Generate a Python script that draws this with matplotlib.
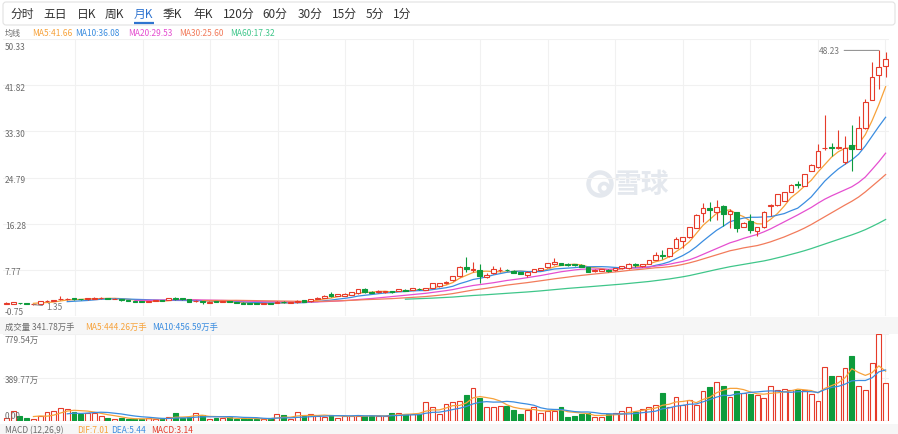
import numpy as np
import pandas as pd
import matplotlib
matplotlib.use('Agg')
import matplotlib.pyplot as plt
import matplotlib.transforms as mtrans
from matplotlib.patches import Rectangle, FancyBboxPatch, Circle

plt.rcParams['font.family'] = ['Noto Sans CJK SC', 'DejaVu Sans']

# ---------------- data (monthly K, forward adjusted) ----------------
opens = [1.55, 1.42, 1.66, 1.52, 1.42, 1.45, 1.95, 2.05, 2.33, 2.35,
         2.57, 2.40, 2.30, 2.45, 2.50, 2.60, 2.35, 2.32, 2.20, 2.05,
         2.00, 1.88, 2.00, 2.10, 2.20, 2.60, 2.50, 2.30, 1.95, 2.02,
         1.65, 1.90, 1.85, 1.95, 1.80, 1.70, 1.60, 1.65, 1.50, 1.70,
         1.60, 1.90, 1.72, 1.75, 2.20, 1.95, 2.38, 2.57, 3.25, 2.90,
         2.90, 3.10, 3.40, 4.20, 3.74, 3.60, 3.60, 3.90, 3.86, 4.10,
         4.10, 4.30, 4.05, 4.40, 4.70, 5.30, 5.80, 6.56, 8.30, 7.70,
         7.80, 6.40, 7.10, 7.70, 7.80, 7.60, 7.30, 6.80, 7.40, 7.80,
         8.20, 8.80, 9.00, 8.90, 8.80, 8.65, 8.22, 7.48, 7.61, 7.80,
         7.67, 8.04, 8.04, 8.80, 8.40, 8.84, 9.63, 10.50, 10.25, 11.85,
         13.10, 13.75, 15.50, 18.20, 19.10, 18.40, 19.60, 18.05, 18.40, 15.70,
         16.80, 15.00, 15.60, 19.50, 19.70, 20.50, 22.20, 23.60, 23.30, 26.00,
         26.70, 30.20, 30.40, 30.20, 27.70, 30.80, 30.10, 33.90, 39.10, 43.75,
         45.40]
closes = [1.62, 1.77, 1.58, 1.46, 1.50, 2.08, 2.02, 2.12, 2.40, 2.42,
          2.33, 2.30, 2.50, 2.62, 2.60, 2.42, 2.45, 2.15, 2.02, 1.90,
          1.85, 2.00, 2.06, 2.00, 2.50, 2.30, 2.30, 1.92, 2.05, 1.80,
          1.90, 1.85, 1.90, 1.80, 1.62, 1.50, 1.55, 1.45, 1.60, 1.55,
          1.90, 1.75, 1.80, 2.10, 1.88, 2.38, 2.63, 3.00, 2.88, 3.25,
          3.30, 3.60, 4.23, 3.60, 3.50, 3.90, 3.80, 3.60, 4.23, 3.90,
          4.35, 4.20, 4.35, 5.27, 5.30, 5.60, 6.56, 8.30, 7.90, 8.00,
          6.57, 6.80, 7.90, 7.80, 7.70, 7.20, 7.05, 7.40, 7.90, 8.05,
          9.00, 9.15, 8.70, 8.60, 8.60, 8.30, 7.42, 7.79, 7.91, 7.55,
          8.04, 8.40, 8.84, 8.60, 8.80, 9.57, 10.50, 10.35, 11.70, 13.40,
          13.75, 15.60, 17.90, 19.20, 18.80, 19.30, 18.10, 18.67, 15.40, 16.40,
          15.20, 15.60, 18.50, 19.70, 21.70, 22.05, 23.40, 23.40, 25.40, 27.10,
          29.70, 30.30, 30.20, 30.40, 30.30, 30.10, 33.90, 38.80, 43.30, 45.10,
          46.60]
highs = [1.85, 1.80, 1.70, 1.55, 1.55, 2.10, 2.25, 2.20, 3.00, 2.55,
         2.62, 2.45, 2.55, 2.68, 2.75, 2.65, 2.52, 2.36, 2.24, 2.08,
         2.03, 2.05, 2.12, 2.14, 2.55, 2.75, 2.55, 2.35, 2.12, 2.05,
         1.95, 1.95, 1.96, 1.98, 1.84, 1.74, 1.65, 1.68, 1.66, 1.72,
         1.95, 1.94, 1.85, 2.15, 2.25, 2.45, 2.70, 3.05, 3.60, 3.30,
         3.40, 3.75, 4.30, 4.35, 3.80, 4.00, 3.90, 3.95, 4.30, 4.15,
         4.45, 4.40, 4.45, 5.35, 5.40, 5.75, 6.65, 8.40, 10.07, 9.15,
         8.84, 7.10, 8.50, 8.20, 7.95, 7.75, 7.40, 7.50, 8.00, 8.15,
         9.10, 9.90, 9.10, 8.95, 8.90, 8.75, 8.30, 7.90, 8.00, 7.90,
         8.10, 8.50, 8.95, 9.10, 8.90, 9.65, 11.10, 11.50, 11.80, 13.90,
         13.85, 15.70, 18.00, 20.10, 20.20, 20.70, 19.80, 19.00, 18.50, 16.50,
         18.10, 15.70, 18.60, 19.90, 21.80, 22.20, 23.50, 24.20, 25.50, 27.30,
         31.00, 36.30, 31.20, 33.60, 32.40, 34.50, 36.20, 39.20, 46.10, 48.23,
         48.00]
lows = [1.45, 1.40, 1.55, 1.42, 1.35, 1.42, 1.85, 2.00, 2.25, 2.25,
        2.28, 2.25, 2.28, 2.40, 2.45, 2.38, 2.30, 2.10, 1.98, 1.86,
        1.82, 1.85, 1.95, 1.96, 2.15, 2.25, 2.25, 1.88, 1.90, 1.50,
        1.60, 1.80, 1.82, 1.76, 1.58, 1.46, 1.50, 1.40, 1.46, 1.50,
        1.56, 1.70, 1.68, 1.72, 1.80, 1.90, 2.32, 2.50, 2.80, 2.85,
        2.85, 3.05, 3.35, 3.55, 3.40, 3.55, 3.50, 3.55, 3.80, 3.85,
        4.05, 4.10, 4.00, 4.35, 4.60, 5.20, 5.75, 6.50, 7.30, 7.30,
        5.33, 6.30, 7.00, 7.30, 7.55, 7.10, 6.95, 6.50, 7.30, 7.75,
        8.10, 8.70, 8.60, 8.50, 8.50, 8.20, 7.30, 7.40, 7.50, 7.45,
        7.60, 7.95, 8.00, 8.20, 8.30, 8.75, 9.55, 9.76, 10.15, 11.75,
        11.80, 13.60, 15.40, 16.60, 16.80, 17.00, 15.90, 15.40, 14.80, 15.60,
        14.55, 14.06, 15.50, 17.60, 19.60, 20.40, 22.10, 22.80, 23.20, 25.90,
        26.60, 29.80, 28.80, 30.00, 27.30, 25.90, 30.00, 33.80, 39.00, 41.10,
        43.30]
# volume in 万手
volumes = [23, 92, 44, 23, 18, 47, 83, 92, 118, 104,
           83, 65, 74, 74, 47, 23, 20, 23, 18, 18,
           18, 23, 18, 23, 38, 68, 29, 35, 74, 50,
           18, 23, 23, 35, 18, 23, 18, 18, 20, 23,
           59, 50, 18, 77, 41, 65, 47, 35, 56, 29,
           47, 47, 47, 47, 47, 47, 41, 70, 73, 65,
           65, 67, 171, 127, 67, 151, 171, 180, 237, 298,
           210, 124, 127, 136, 130, 98, 65, 95, 127, 73,
           92, 92, 121, 38, 44, 59, 70, 38, 38, 62,
           70, 92, 124, 77, 110, 124, 145, 248, 124, 213,
           145, 192, 145, 272, 307, 348, 316, 219, 272, 251,
           245, 231, 203, 310, 275, 284, 278, 281, 278, 243,
           177, 481, 405, 402, 472, 582, 310, 278, 520, 779.54,
           341.78]

price_ticks = [-0.75, 7.77, 16.28, 24.79, 33.30, 41.82, 50.33]
price_labels = ['-0.75', '7.77', '16.28', '24.79', '33.30', '41.82', '50.33']
vol_ticks = [0.0, 389.77, 779.54]
vol_labels = ['0.00', '389.77万', '779.54万']
tabs = ['分时', '五日', '日K', '周K', '月K', '季K', '年K', '120分', '60分', '30分', '15分', '5分', '1分']
ma_periods = [5, 10, 20, 30, 60]
ma_labels = ['MA5:41.66', 'MA10:36.08', 'MA20:29.53', 'MA30:25.60', 'MA60:17.32']

# ---------------- style ----------------
RED = '#e63b2a'
GREEN = '#0d9b3c'
MA_COLORS = ['#f7a23a', '#3b8de0', '#e54fd0', '#f27b5b', '#3fc68a']
GRID = '#f1f1f1'
TXT = '#6b6b6b'
WM = '#e4e8ee'
W, H = 898, 435
tab_x = [10, 43, 77, 105, 134, 163, 193, 223, 262, 298, 332, 366, 393]
ma_x = [32, 75, 128, 179, 230]

fig = plt.figure(figsize=(W / 100, H / 100), dpi=100)
fig.patch.set_facecolor('white')

bg = fig.add_axes([0, 0, 1, 1], zorder=0)
bg.set_xlim(0, W)
bg.set_ylim(H, 0)
bg.axis('off')

# tab bar
bg.add_patch(FancyBboxPatch((3, 3), 892, 23, boxstyle='round,pad=0,rounding_size=3',
                            fc='white', ec='#e2e2e2', lw=0.8))
for t, xx in zip(tabs, tab_x):
    col = '#2f74d0' if t == '月K' else '#333333'
    bg.text(xx, 14.5, t, fontsize=8.5, color=col, ha='left', va='center')
bg.plot([134, 154], [23.5, 23.5], color='#2f74d0', lw=1.6, solid_capstyle='butt')

# MA legend
bg.text(5, 33, '均线', fontsize=5.8, color=TXT, ha='left', va='center')
for lab, xx, c_ in zip(ma_labels, ma_x, MA_COLORS):
    bg.text(xx, 33, lab, fontsize=6, color=c_, ha='left', va='center')

# gray header bands
bg.add_patch(Rectangle((0, 318), W, 17, color='#f6f6f6', lw=0))
bg.add_patch(Rectangle((0, 425), W, 10, color='#f6f6f6', lw=0))
bg.text(5, 327, '成交量 341.78万手', fontsize=6, color=TXT, ha='left', va='center')
bg.text(85, 327, 'MA5:444.26万手', fontsize=6, color=MA_COLORS[0], ha='left', va='center')
bg.text(152, 327, 'MA10:456.59万手', fontsize=6, color=MA_COLORS[1], ha='left', va='center')
bg.text(5, 431, 'MACD (12,26,9)', fontsize=6, color=TXT, ha='left', va='center')
bg.text(77, 431, 'DIF:7.01', fontsize=6, color=MA_COLORS[0], ha='left', va='center')
bg.text(111, 431, 'DEA:5.44', fontsize=6, color=MA_COLORS[1], ha='left', va='center')
bg.text(151, 431, 'MACD:3.14', fontsize=6, color=RED, ha='left', va='center')

# watermark
bg.add_patch(Circle((600, 185), 11.5, fill=False, ec=WM, lw=3.2))
bg.add_patch(Circle((604, 189), 4.5, fill=False, ec=WM, lw=2.6))
bg.text(641, 185, '雪球', fontsize=20, color=WM, ha='center', va='center', fontweight='bold')

n = len(closes)
x = np.arange(n)
o = np.array(opens); c = np.array(closes); h = np.array(highs); l = np.array(lows)
v = np.array(volumes)
up = c >= o
cols = np.where(up, RED, GREEN)

# ---------------- main price axes ----------------
ax_left, ax_w = 3 / W, 886 / W
ax = fig.add_axes([ax_left, 1 - 317 / H, ax_w, 277 / H], zorder=1)
ax.set_facecolor('none')
ax.set_xlim(-0.5, n - 0.5)
ax.set_ylim(price_ticks[0], price_ticks[-1])
for s in ax.spines.values():
    s.set_visible(False)
ax.set_xticks([]); ax.set_yticks([])

bar_px = 886 / n
vgrid = [(8 + 67.46 * k - 3) / bar_px - 0.5 for k in range(1, 14)]
for yv in price_ticks:
    ax.axhline(yv, color=GRID, lw=0.8, zorder=0)
for xv in vgrid:
    ax.axvline(xv, color=GRID, lw=0.8, zorder=0)

blend = mtrans.blended_transform_factory(ax.transAxes, ax.transData)
for i, (yv, lab) in enumerate(zip(price_ticks, price_labels)):
    if i == len(price_ticks) - 1:
        va, dy = 'top', -2
    elif i == 0:
        va, dy = 'bottom', 0
    else:
        va, dy = 'center', -1.5
    ax.annotate(lab, xy=(0.002, yv), xycoords=blend, xytext=(0, dy), textcoords='offset points',
                fontsize=6, color=TXT, ha='left', va=va, zorder=6)

# moving averages
cs = pd.Series(c)
for p, col in zip(ma_periods, MA_COLORS):
    ax.plot(x, cs.rolling(p).mean(), color=col, lw=0.9, zorder=2)

# candles
ax.vlines(x, l, h, colors=cols, lw=0.8, zorder=3)
body_h = np.maximum(np.abs(c - o), 0.12)
body_b = np.minimum(o, c)
ax.bar(x, body_h, bottom=body_b, width=0.7, color=np.where(up, 'white', GREEN),
       edgecolor=cols, linewidth=0.8, zorder=4)

# extreme annotations
imax = int(np.argmax(h)); imin = int(np.argmin(l))
ax.annotate(f'{h[imax]:.2f}', xy=(imax, h[imax]), xytext=(-28, 0), textcoords='offset points',
            fontsize=6, color='#777777', ha='right', va='center', zorder=6,
            arrowprops=dict(arrowstyle='-', color='#888888', lw=0.7, shrinkA=1, shrinkB=0))
ax.annotate(f'{l[imin]:.2f}', xy=(imin, l[imin]), xytext=(9.5, -1.5), textcoords='offset points',
            fontsize=6, color='#777777', ha='left', va='center', zorder=6,
            arrowprops=dict(arrowstyle='-', color='#888888', lw=0.7, shrinkA=1, shrinkB=0))

# ---------------- volume axes ----------------
vax = fig.add_axes([ax_left, 1 - 422 / H, ax_w, 87 / H], zorder=1)
vax.set_facecolor('none')
vax.set_xlim(-0.5, n - 0.5)
vax.set_ylim(vol_ticks[0], vol_ticks[-1])
for s in vax.spines.values():
    s.set_visible(False)
vax.set_xticks([]); vax.set_yticks([])
for yv in vol_ticks[1:]:
    vax.axhline(yv, color=GRID, lw=0.8, zorder=0)
for xv in vgrid:
    vax.axvline(xv, color=GRID, lw=0.8, zorder=0)

vax.bar(x, v, width=0.72, color=np.where(up, 'white', GREEN), edgecolor=cols,
        linewidth=0.8, zorder=3)
vs = pd.Series(v)
vax.plot(x, vs.rolling(5).mean(), color=MA_COLORS[0], lw=0.9, zorder=4)
vax.plot(x, vs.rolling(10).mean(), color=MA_COLORS[1], lw=0.9, zorder=4)

vblend = mtrans.blended_transform_factory(vax.transAxes, vax.transData)
for i, (yv, lab) in enumerate(zip(vol_ticks, vol_labels)):
    if i == len(vol_ticks) - 1:
        va, dy = 'top', -1
    elif i == 0:
        va, dy = 'bottom', 1
    else:
        va, dy = 'center', -1.5
    vax.annotate(lab, xy=(0.002, yv), xycoords=vblend, xytext=(0, dy), textcoords='offset points',
                 fontsize=6, color=TXT, ha='left', va=va, zorder=6)

fig.savefig('out.png', dpi=100, facecolor='white')
